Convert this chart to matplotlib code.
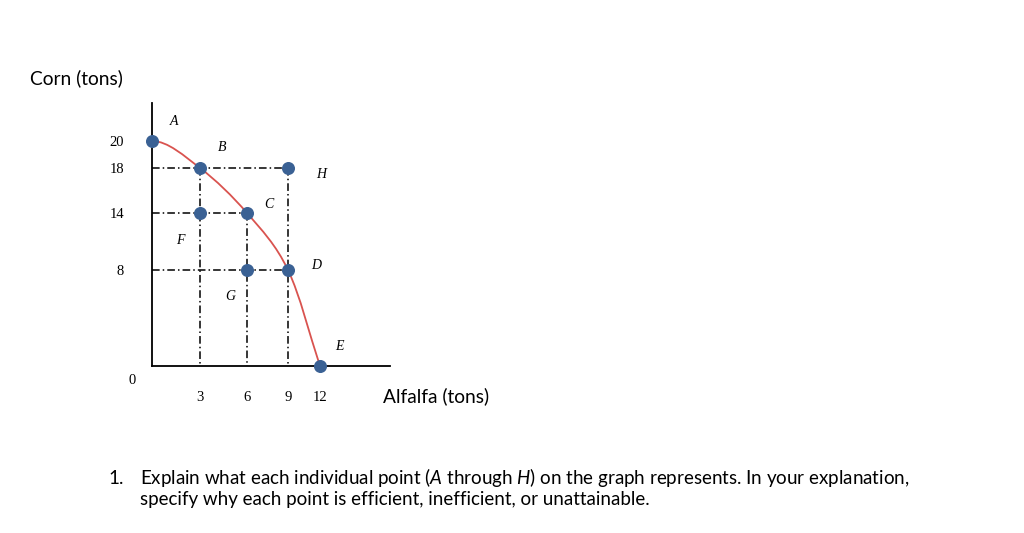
import numpy as np
import matplotlib
matplotlib.use("Agg")
import matplotlib.pyplot as plt
from matplotlib.path import Path
from matplotlib.patches import PathPatch

plt.rcParams["mathtext.fontset"] = "custom"
plt.rcParams["mathtext.it"] = "Lato:italic"
plt.rcParams["mathtext.rm"] = "Lato"

# production possibilities (alfalfa, corn) in tons
frontier_names = ["A", "B", "C", "D", "E"]
frontier_alfalfa = [0, 3, 6, 9, 12]
frontier_corn = [20, 18, 14, 8, 0]

other_names = ["F", "G", "H"]
other_alfalfa = [3, 6, 9]
other_corn = [14, 8, 18]

x_ticks = [3, 6, 9, 12]
y_ticks = [20, 18, 14, 8]

question_1 = ("Explain what each individual point ($\\mathit{A}$ through $\\mathit{H}$) on the graph "
              "represents. In your explanation,")
question_2 = "specify why each point is efficient, inefficient, or unattainable."

# the sketch is not drawn to scale: piecewise axis spacing
xs_data = [0, 3, 6, 9, 12, 16]
xs_pix = [0, 48, 95, 136, 168, 238]
ys_data = [0, 8, 14, 18, 20, 23]
ys_pix = [0, 96, 153, 198, 225, 263]


def fx(v):
    return np.interp(v, xs_data, xs_pix)


def fx_inv(v):
    return np.interp(v, xs_pix, xs_data)


def fy(v):
    return np.interp(v, ys_data, ys_pix)


def fy_inv(v):
    return np.interp(v, ys_pix, ys_data)


W, H = 1024, 533
fig = plt.figure(figsize=(W / 100, H / 100), dpi=100)
ax = fig.add_axes([152 / W, (H - 366) / H, 238 / W, 263 / H])
ax.set_xscale("function", functions=(fx, fx_inv))
ax.set_yscale("function", functions=(fy, fy_inv))
ax.set_xlim(0, 16)
ax.set_ylim(0, 23)
for s in ["top", "right"]:
    ax.spines[s].set_visible(False)
ax.spines["left"].set_linewidth(1.3)
ax.spines["bottom"].set_linewidth(1.3)

serif = "Liberation Serif"
ax.set_xticks(x_ticks)
ax.set_xticklabels([str(v) for v in x_ticks], family=serif, fontsize=10.5)
ax.set_yticks(y_ticks)
ax.set_yticklabels([str(v) for v in y_ticks], family=serif, fontsize=10.5)
ax.tick_params(axis="x", length=0, pad=18)
ax.tick_params(axis="y", length=0, pad=20)

# dash-dot guide lines
dash = dict(color="black", lw=1.1, ls=(0, (5, 2, 1, 2)), zorder=1)
B, C, D = (3, 18), (6, 14), (9, 8)
Hp = (other_alfalfa[2], other_corn[2])
ax.plot([0, Hp[0]], [B[1], Hp[1]], **dash)
ax.plot([B[0], B[0]], [B[1], 0], **dash)
ax.plot([0, C[0]], [C[1], C[1]], **dash)
ax.plot([C[0], C[0]], [C[1], 0], **dash)
ax.plot([0, D[0]], [D[1], D[1]], **dash)
ax.plot([Hp[0], Hp[0]], [Hp[1], 0], **dash)

# smooth frontier: cubic bezier built from the points in scaled space
px = fx(np.array(frontier_alfalfa, float))
py = fy(np.array(frontier_corn, float))
n = len(px)
tang = []
for i in range(n):
    if i == 0:
        tang.append((px[1] - px[0], 0.0))
    elif i == n - 1:
        tang.append((px[i] - px[i - 1], py[i] - py[i - 1]))
    else:
        tang.append(((px[i + 1] - px[i - 1]) / 2, (py[i + 1] - py[i - 1]) / 2))
verts = [(px[0], py[0])]
codes = [Path.MOVETO]
for i in range(n - 1):
    c1 = (px[i] + tang[i][0] / 3, py[i] + tang[i][1] / 3)
    c2 = (px[i + 1] - tang[i + 1][0] / 3, py[i + 1] - tang[i + 1][1] / 3)
    verts += [c1, c2, (px[i + 1], py[i + 1])]
    codes += [Path.CURVE4] * 3
verts = np.array(verts)
verts_data = np.column_stack([fx_inv(verts[:, 0]), fy_inv(verts[:, 1])])
ax.add_patch(PathPatch(Path(verts_data, codes), fill=False, ec="#d9534f",
                       lw=1.3, zorder=2, clip_on=False))

mk = dict(s=70, color="#3a6194", zorder=3, clip_on=False)
ax.scatter(frontier_alfalfa, frontier_corn, **mk)
ax.scatter(other_alfalfa, other_corn, **mk)

# point letters (offsets in points)
offsets = {"A": (16, 14), "B": (16, 15), "C": (16, 6), "D": (20, 3),
           "E": (14, 14), "F": (-14, -20), "G": (-12, -19), "H": (24, -5)}
names = frontier_names + other_names
xa = frontier_alfalfa + other_alfalfa
ya = frontier_corn + other_corn
for nm, xv, yv in zip(names, xa, ya):
    ax.annotate(nm, (xv, yv), xytext=offsets[nm], textcoords="offset points",
                family=serif, style="italic", fontsize=10,
                ha="center", va="center")

fig.text(132 / W, 1 - 380 / H, "0", family=serif, fontsize=10.5,
         ha="center", va="center")

sans = "Lato"
fig.text(30 / W, 1 - 78 / H, "Corn (tons)", family=sans, fontsize=13.8,
         va="center", ha="left")
fig.text(383 / W, 1 - 396 / H, "Alfalfa (tons)", family=sans, fontsize=13.8,
         va="center", ha="left")
fig.text(108 / W, 1 - 484 / H, "1.", family=sans, fontsize=13.5,
         va="baseline", ha="left")
fig.text(140 / W, 1 - 484 / H, question_1, family=sans, fontsize=13.5,
         va="baseline", ha="left")
fig.text(140 / W, 1 - 505 / H, question_2, family=sans, fontsize=13.5,
         va="baseline", ha="left")

fig.savefig("out.png", dpi=100)
